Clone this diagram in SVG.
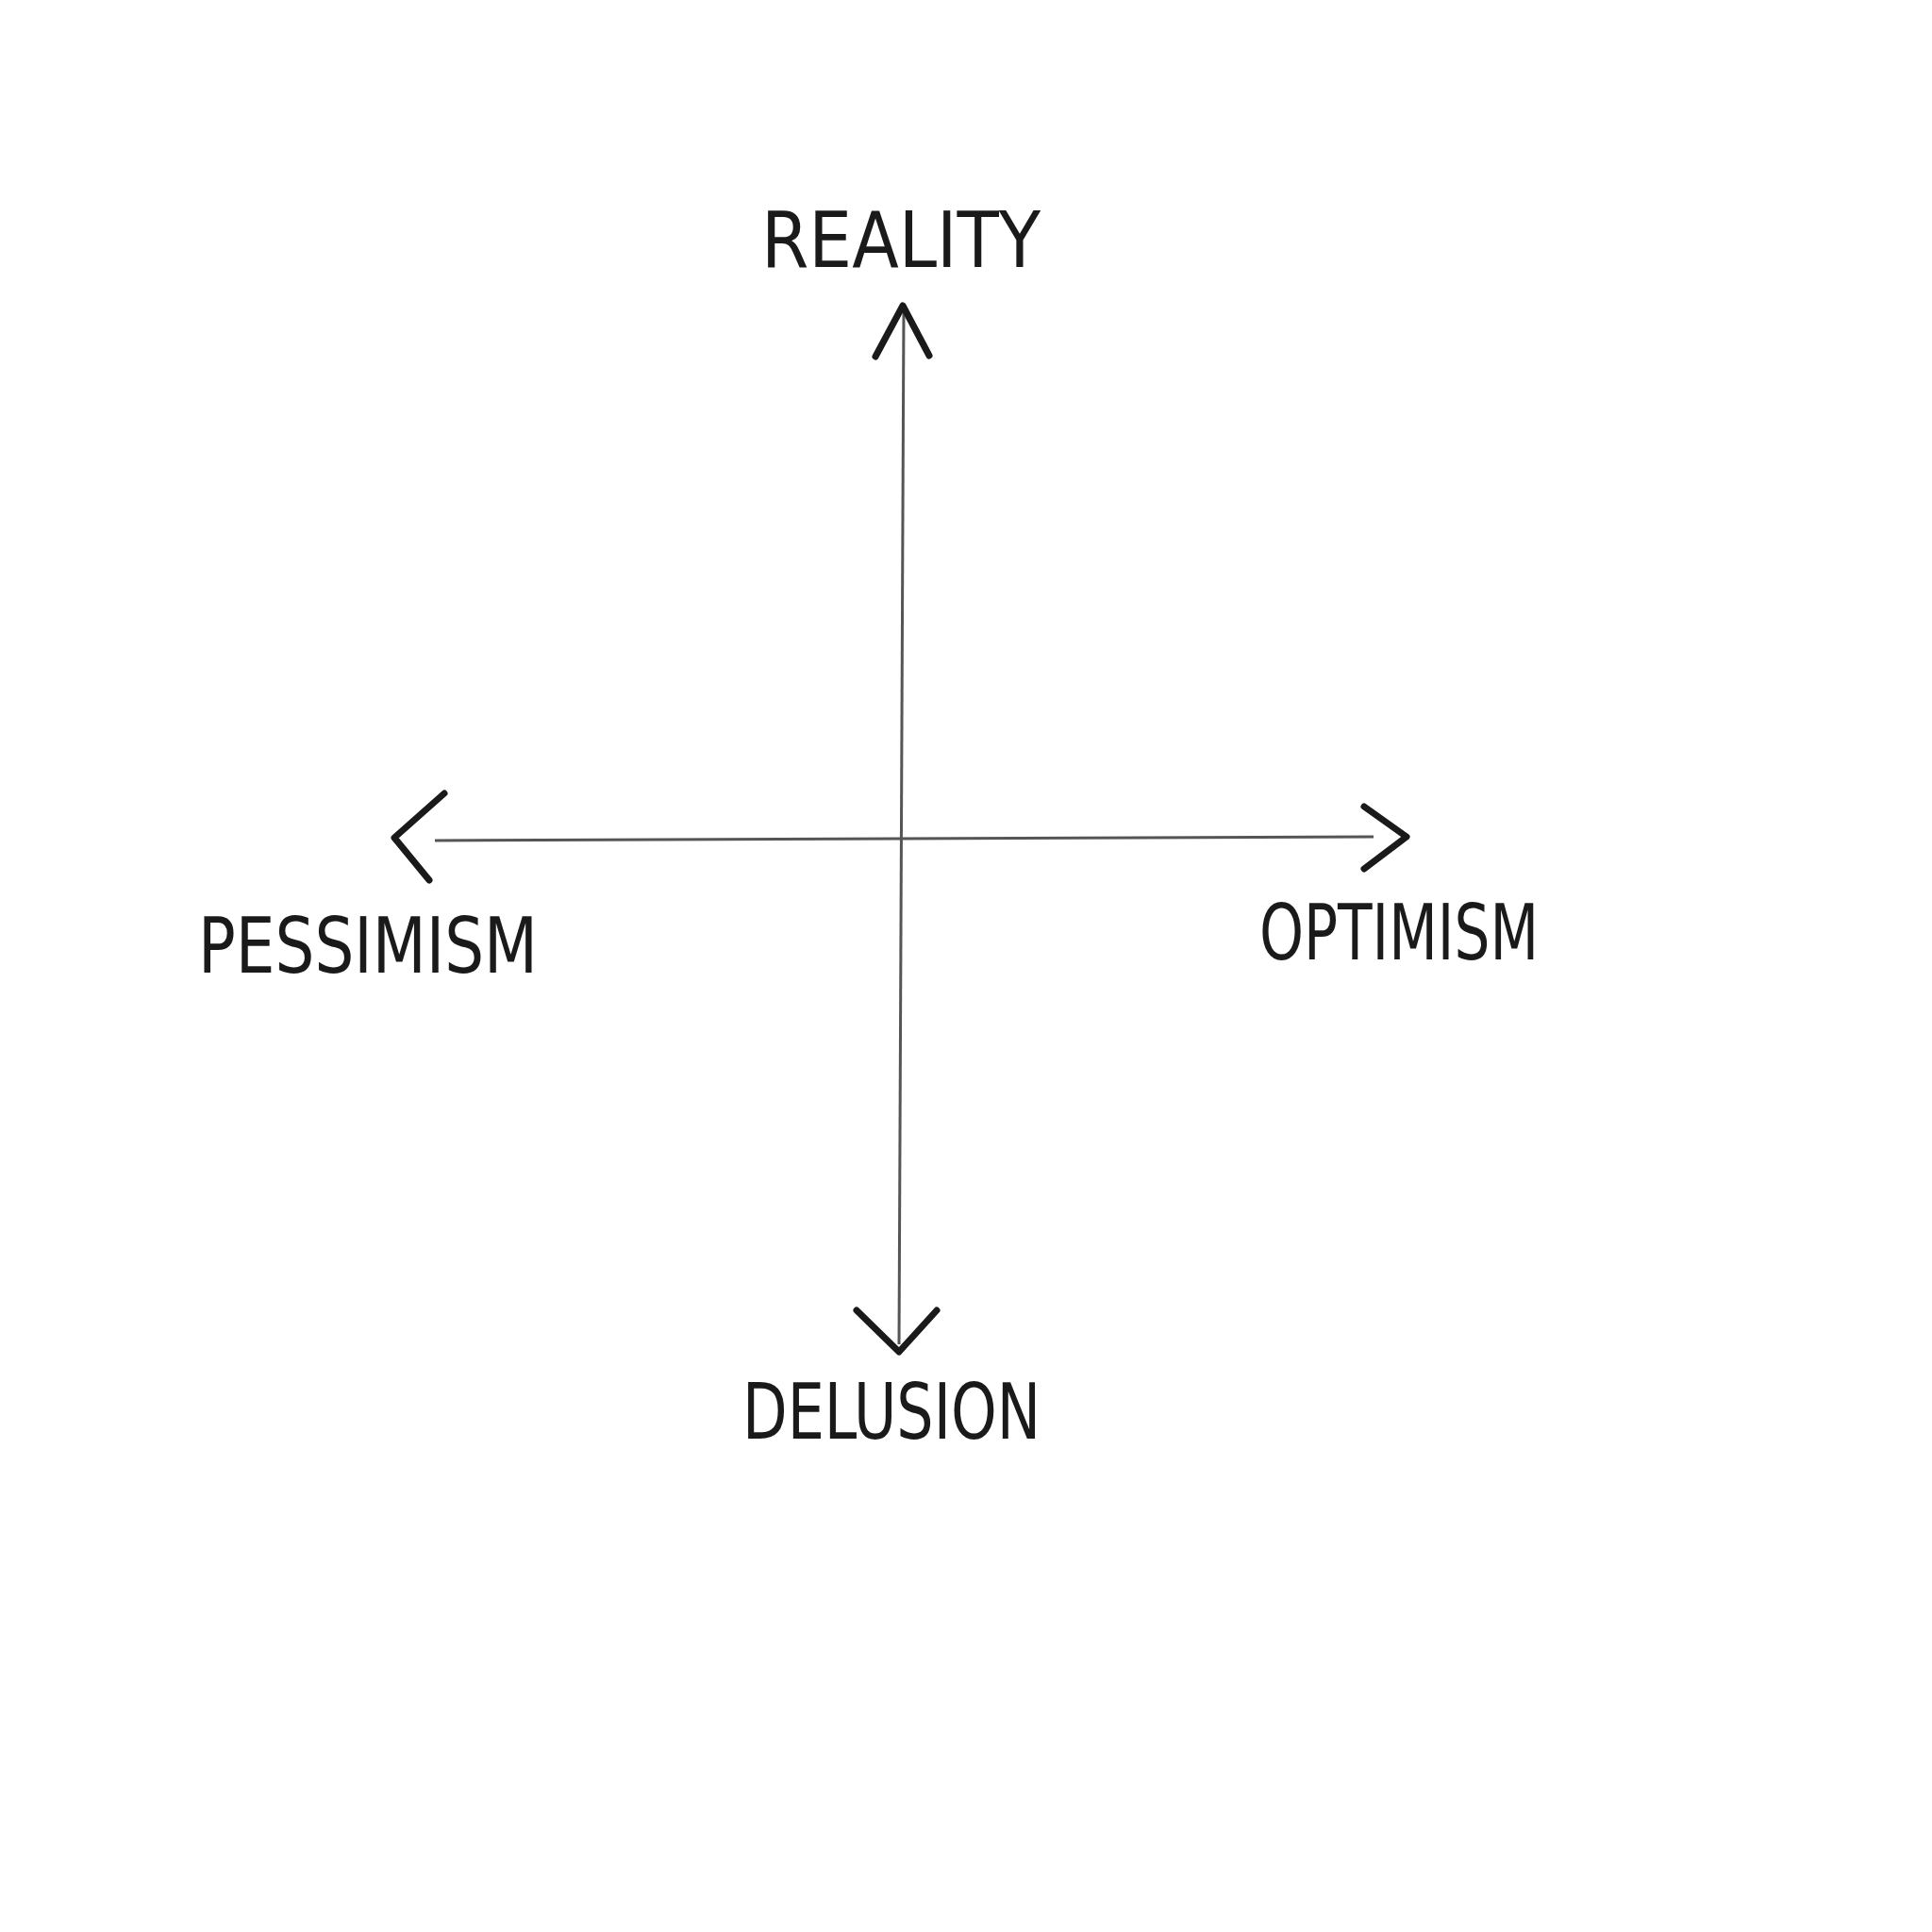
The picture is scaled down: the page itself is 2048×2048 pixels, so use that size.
<svg xmlns="http://www.w3.org/2000/svg" width="2048" height="2048" viewBox="0 0 2048 2048">
<style>
.t{font-family:"DejaVu Sans Condensed","DejaVu Sans",sans-serif;font-size:82px;fill:#1a1a1a}
.ax{stroke:#555;stroke-width:3;fill:none}
.hd{stroke:#1a1a1a;stroke-width:7;fill:none;stroke-linecap:round;stroke-linejoin:round}
</style>
<rect width="2048" height="2048" fill="#fff"/>
<g transform="translate(-9,-7)">
<g id="connectors">
<line class="ax" x1="967" y1="335" x2="962" y2="1432"/>
<line class="ax" x1="470" y1="898" x2="1465" y2="894"/>
<polyline class="hd" points="937,385 966,331 994,384"/>
<polyline class="hd" points="917,1396 962,1440 1002,1396"/>
<polyline class="hd" points="480,848 427,895 464,940"/>
<polyline class="hd" points="1455,862 1500,894 1455,928"/>
</g>
<g id="reality"><text class="t" x="816" y="290" textLength="296" lengthAdjust="spacingAndGlyphs">REALITY</text></g>
<g id="pessimism"><text class="t" x="219" y="1038" textLength="360" lengthAdjust="spacingAndGlyphs">PESSIMISM</text></g>
<g id="optimism"><text class="t" x="1344" y="1024" textLength="296" lengthAdjust="spacingAndGlyphs">OPTIMISM</text></g>
<g id="delusion"><text class="t" x="796" y="1532" textLength="316" lengthAdjust="spacingAndGlyphs">DELUSION</text></g>
</g>
</svg>
